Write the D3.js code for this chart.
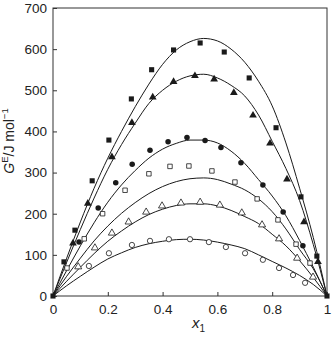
<!doctype html>
<html>
  <head>
    <meta charset="UTF-8"/>
    <title>GE chart</title>
    <script src="https://d3js.org/d3.v7.min.js"></script>
    <style>
      body { margin: 0; padding: 0; background: #fff; }
      svg { display: block; }
      text { font-family: "Liberation Sans", Arial, sans-serif; fill: #222; }
    </style>
  </head>
  <body>
    <section id="app_screen"></section>
    <script>
      // measured points, x1 / GE (J mol-1)
      const sqFilledX = [0, 0.04, 0.08, 0.143, 0.204, 0.286, 0.36, 0.44, 0.537, 0.625, 0.716, 0.814, 0.905, 0.963, 1];
      const sqFilledY = [0, 83, 160, 280, 379, 479, 550, 598, 615, 593, 530, 409, 241, 97, 0];
      const triFilledX = [0.073, 0.127, 0.215, 0.288, 0.364, 0.44, 0.518, 0.588, 0.66, 0.73, 0.792, 0.854, 0.916, 0.967];
      const triFilledY = [128, 225, 338, 421, 483, 521, 535, 527, 494, 439, 371, 284, 180, 83];
      const dotFilledX = [0.095, 0.165, 0.229, 0.289, 0.354, 0.42, 0.489, 0.555, 0.613, 0.686, 0.766, 0.84, 0.912];
      const dotFilledY = [131, 214, 275, 320, 354, 375, 385, 378, 361, 324, 270, 204, 122];
      const sqOpenX = [0.051, 0.114, 0.181, 0.263, 0.35, 0.427, 0.496, 0.58, 0.664, 0.745, 0.821, 0.887, 0.938];
      const sqOpenY = [68, 139, 200, 257, 297, 315, 316, 304, 277, 236, 185, 126, 80];
      const triOpenX = [0.092, 0.153, 0.215, 0.276, 0.34, 0.398, 0.467, 0.537, 0.609, 0.689, 0.763, 0.825, 0.891, 0.949];
      const triOpenY = [71, 117, 153, 180, 204, 219, 226, 228, 221, 202, 173, 139, 92, 46];
      const dotOpenX = [0.131, 0.204, 0.288, 0.354, 0.423, 0.5, 0.569, 0.631, 0.701, 0.766, 0.825, 0.876, 0.92];
      const dotOpenY = [73, 104, 124, 134, 138, 138, 131, 119, 104, 88, 68, 51, 32];

      // fitted curves, read at x1 = 0, 0.05 ... 1
      const curveX = [0, 0.05, 0.1, 0.15, 0.2, 0.25, 0.3, 0.35, 0.4, 0.45, 0.5, 0.55, 0.6, 0.65, 0.7, 0.75, 0.8, 0.85, 0.9, 0.95, 1];
      const fitA = [0, 92, 180, 262, 335, 400, 460, 515, 563, 598, 618, 626, 620, 600, 568, 522, 462, 372, 262, 142, 0];
      const fitB = [0, 82, 162, 238, 308, 368, 420, 468, 500, 522, 535, 539, 530, 512, 486, 440, 376, 310, 232, 125, 0];
      const fitC = [0, 62, 122, 178, 228, 270, 305, 335, 357, 371, 379, 379, 372, 352, 322, 283, 243, 195, 135, 70, 0];
      const fitD = [0, 48, 92, 134, 170, 201, 227, 249, 266, 278, 285, 287, 283, 272, 258, 236, 205, 163, 113, 66, 0];
      const fitE = [0, 36, 70, 103, 133, 158, 180, 198, 211, 220, 224, 224, 219, 208, 193, 176, 150, 122, 86, 45, 0];
      const fitF = [0, 25, 48, 70, 90, 105, 118, 127, 133, 137, 138, 136, 131, 124, 115, 100, 84, 68, 50, 28, 0];

      const xTicks = [0, 0.2, 0.4, 0.6, 0.8, 1];
      const yTicks = [0, 100, 200, 300, 400, 500, 600, 700];

      const W = 332, H = 338;
      const m = {top: 8, right: 5, bottom: 42, left: 53};
      const ink = "#1a1a1a";

      const svg = d3.select("#app_screen").append("svg").attr("width", W).attr("height", H);
      const x = d3.scaleLinear().domain([0, 1]).range([m.left, W - m.right]);
      const y = d3.scaleLinear().domain([0, 700]).range([H - m.bottom, m.top]);

      // frame
      svg.append("rect")
        .attr("x", x(0)).attr("y", y(700))
        .attr("width", x(1) - x(0)).attr("height", y(0) - y(700))
        .attr("fill", "none").attr("stroke", "#333").attr("stroke-width", 1);

      const xAxis = svg.append("g").attr("transform", `translate(0,${y(0)})`)
        .call(d3.axisBottom(x).tickValues(xTicks).tickSizeInner(-4).tickSizeOuter(0).tickPadding(8)
          .tickFormat(d => d === 0 || d === 1 ? d3.format("d")(d) : d3.format(".1f")(d)));
      const yAxis = svg.append("g").attr("transform", `translate(${x(0)},0)`)
        .call(d3.axisLeft(y).tickValues(yTicks).tickSizeInner(-4).tickSizeOuter(0).tickPadding(6));
      [xAxis, yAxis].forEach(g => {
        g.select(".domain").remove();
        g.selectAll("line").attr("stroke", "#333");
        g.selectAll("text").attr("font-size", 13.5).attr("fill", "#222");
      });

      // fitted lines
      const line = d3.line().x((d, i) => x(curveX[i])).y(d => y(d)).curve(d3.curveMonotoneX);
      [fitF, fitE, fitD, fitC, fitB, fitA].forEach(s => {
        svg.append("path").attr("d", line(s))
          .attr("fill", "none").attr("stroke", ink).attr("stroke-width", 1);
      });

      // markers
      const series = [
        {xs: dotOpenX, ys: dotOpenY, type: d3.symbolCircle, size: 22, fill: false},
        {xs: triOpenX, ys: triOpenY, type: d3.symbolTriangle, size: 22, fill: false},
        {xs: sqOpenX, ys: sqOpenY, type: d3.symbolSquare, size: 20, fill: false},
        {xs: dotFilledX, ys: dotFilledY, type: d3.symbolCircle, size: 24, fill: true},
        {xs: triFilledX, ys: triFilledY, type: d3.symbolTriangle, size: 26, fill: true},
        {xs: sqFilledX, ys: sqFilledY, type: d3.symbolSquare, size: 26, fill: true}
      ];
      series.forEach(s => {
        const sym = d3.symbol().type(s.type).size(s.size);
        svg.append("g").selectAll("path")
          .data(s.xs.map((v, i) => [v, s.ys[i]]))
          .join("path")
          .attr("d", sym)
          .attr("transform", d => `translate(${x(d[0])},${y(d[1])})`)
          .attr("fill", s.fill ? ink : "#fff")
          .attr("stroke", ink)
          .attr("stroke-width", s.fill ? 0 : 0.8);
      });

      // axis titles
      const xl = svg.append("text").attr("x", 192).attr("y", 328).attr("font-size", 15);
      xl.append("tspan").attr("font-style", "italic").text("x");
      xl.append("tspan").attr("font-size", 10).attr("dy", 4).text("1");

      const yl = svg.append("text")
        .attr("transform", `translate(14,${(y(0) + y(700)) / 2 - 11}) rotate(-90)`)
        .attr("text-anchor", "middle").attr("font-size", 14);
      yl.append("tspan").attr("font-style", "italic").text("G");
      yl.append("tspan").attr("font-size", 9.5).attr("dy", -6).text("E");
      yl.append("tspan").attr("dy", 6).text("/J mol");
      yl.append("tspan").attr("font-size", 9.5).attr("dy", -6).text("\u22121");
    </script>
  </body>
</html>
